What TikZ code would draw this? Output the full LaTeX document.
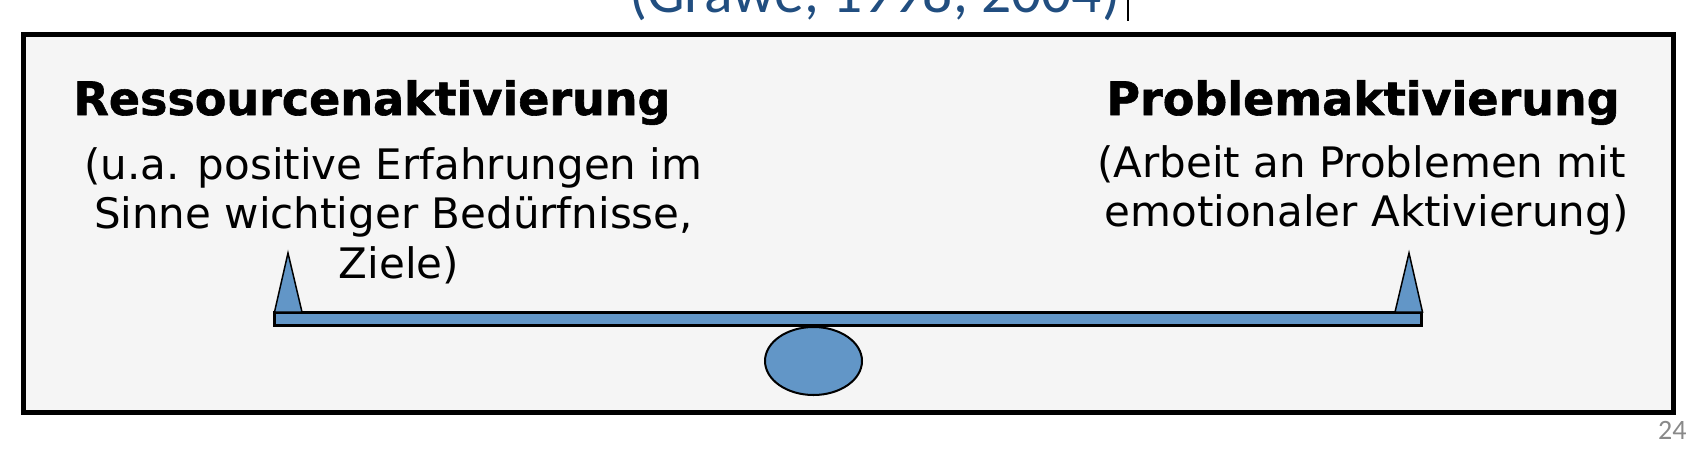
\documentclass[tikz,border=0pt]{standalone}
\usepackage{fontspec}
\usetikzlibrary{shapes.geometric}
\setmainfont[BoldFeatures={FakeBold=1.3}]{DejaVu Sans}
\newfontfamily\calib{Carlito}
\definecolor{bgpanel}{RGB}{245,245,245}
\definecolor{beamblue}{RGB}{98,150,199}
\definecolor{titleblue}{RGB}{33,78,128}
\definecolor{pagegray}{RGB}{137,137,137}
\tikzset{
  panel/.style={draw=black, line width=5pt, fill=bgpanel},
  bluepart/.style={draw=black, fill=beamblue, line join=miter},
  headtxt/.style={inner sep=0pt, anchor=base, font=\fontsize{46}{50}\selectfont\bfseries},
  bodytxt/.style={inner sep=0pt, anchor=base, font=\fontsize{42}{50}\selectfont},
}
\begin{document}
\begin{tikzpicture}[x=1pt, y=-1pt]
\useasboundingbox (0,0) rectangle (1704,464);
\fill[white] (0,0) rectangle (1704,464);
\begin{scope}
\clip (0,0) rectangle (1704,464);
\node[inner sep=0pt, anchor=base west, text=titleblue, font=\calib\fontsize{59.5}{60}\selectfont] (title) at (629,12) {(Grawe, 1998, 2004)};
\end{scope}
\coordinate (curtop) at (1128,0);
\coordinate (curbot) at (1128,21);
\draw[line width=1.3pt] (curtop) -- (curbot);
% frame
\draw[panel] (23.5,34.5) rectangle (1673.5,412.5);
% pivot and beam
\node[bluepart, ellipse, line width=2pt, minimum width=97pt, minimum height=68pt, inner sep=0pt] (pivot) at (813.5,361) {};
\draw[bluepart, line width=2.5pt] (274.5,312.5) rectangle (1421.5,325.5);
\draw[bluepart, line width=1.5pt] (274.5,312) -- (288,253) -- (302,312) -- cycle;
\draw[bluepart, line width=1.5pt] (1395,312) -- (1409,253) -- (1422.5,312) -- cycle;
% texts
\node[headtxt] (lhead) at (372,115) {Ressourcenaktivierung};
\node[bodytxt] (l1) at (393.5,179) {(u.a. positive Erfahrungen im};
\node[bodytxt] (l2) at (393.5,228.5) {Sinne wichtiger Bedürfnisse,};
\node[bodytxt] (l3) at (399,278) {Ziele)};
\node[headtxt] (rhead) at (1363,115) {Problemaktivierung};
\node[bodytxt] (r1) at (1361.5,177.5) {(Arbeit an Problemen mit};
\node[bodytxt] (r2) at (1366.5,226.5) {emotionaler Aktivierung)};
\node[inner sep=0pt, anchor=base west, text=pagegray, font=\calib\fontsize{28}{30}\selectfont] (pagenum) at (1658,439) {24};
\end{tikzpicture}
\end{document}
